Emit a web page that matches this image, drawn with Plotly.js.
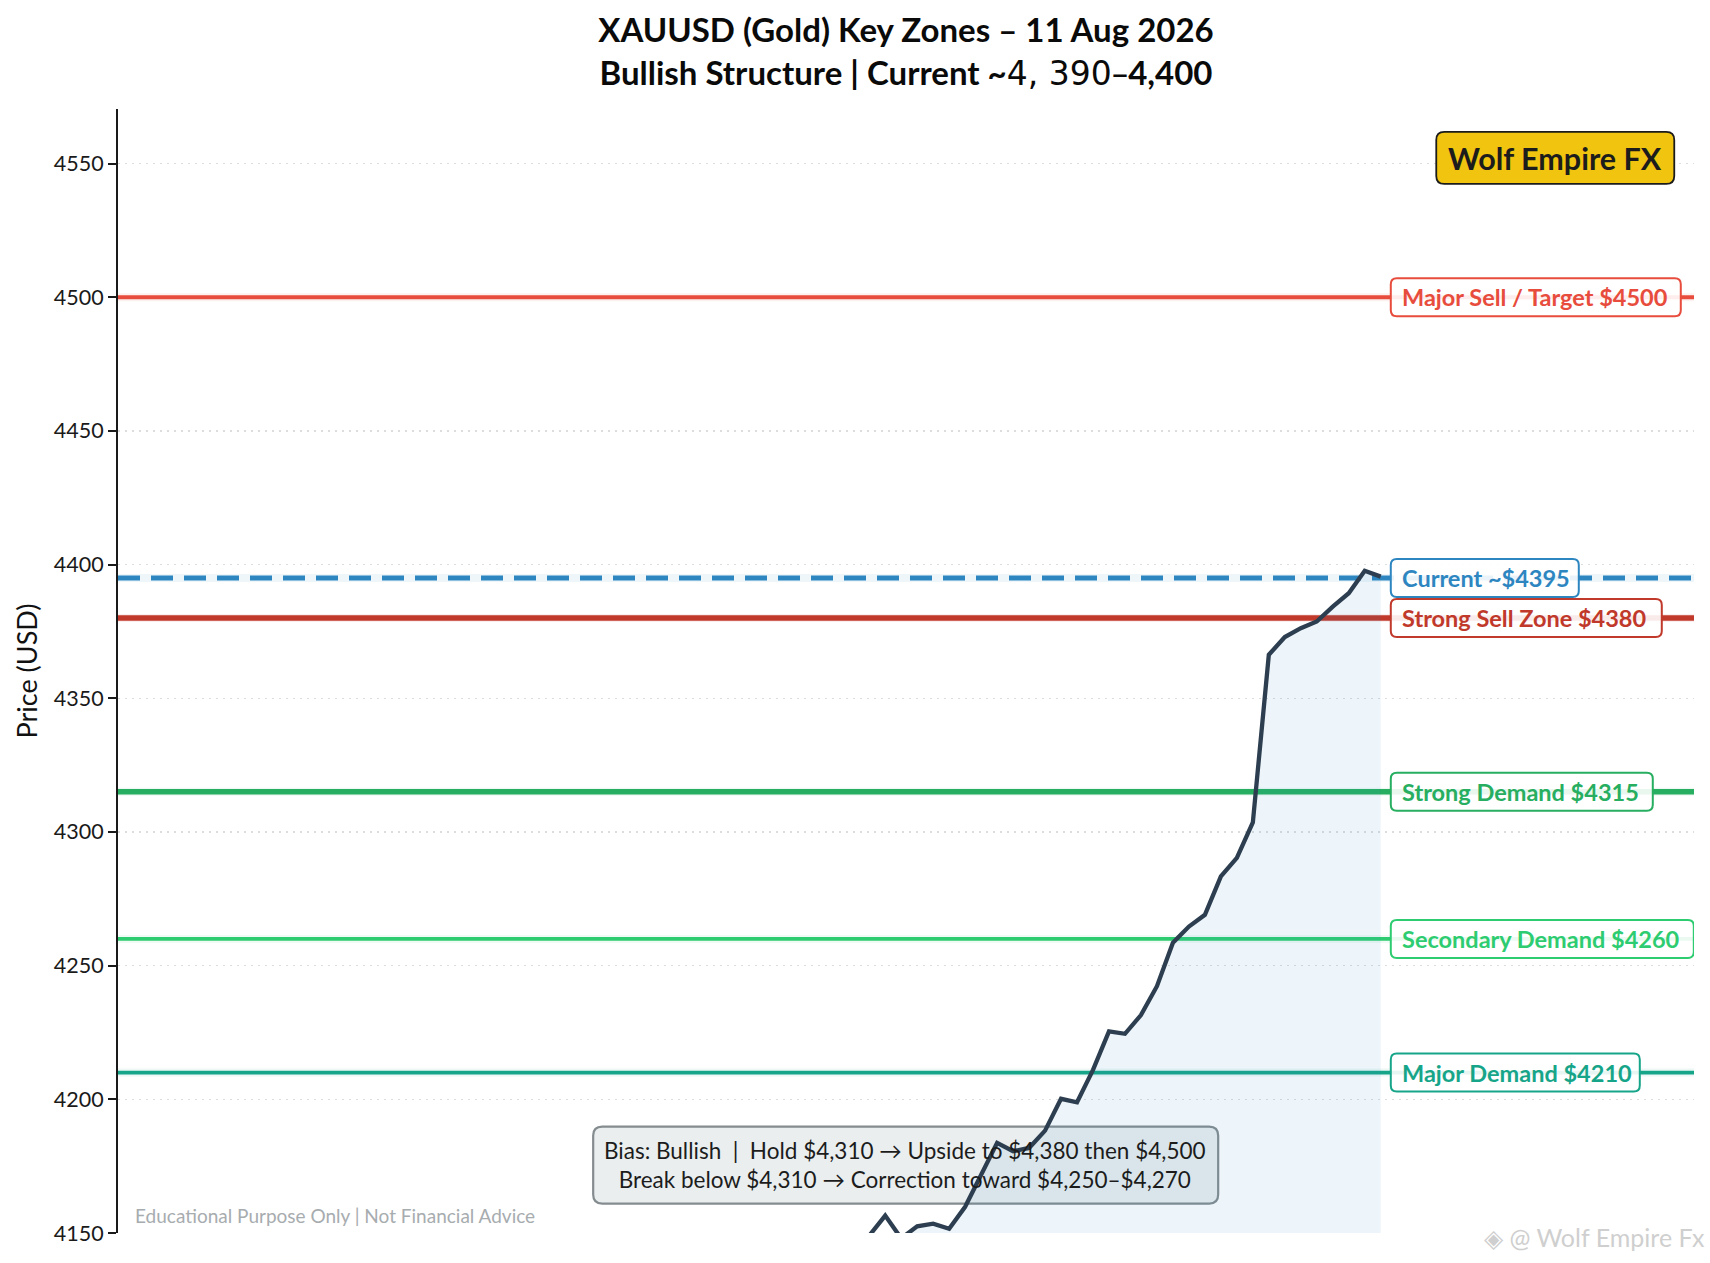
<!DOCTYPE html>
<html>
<head>
<meta charset="utf-8">
<script src="https://cdn.plot.ly/plotly-3.0.1.min.js"></script>
<style>
html,body{margin:0;padding:0;background:#ffffff;}
#chart{width:1710px;height:1263px;}
</style>
</head>
<body>
<div id="chart"></div>
<script>
// ---- data ----
const barIndex = [47,48,49,50,51,52,53,54,55,56,57,58,59,60,61,62,63,64,65,66,67,68,69,70,71,72,73,74,75,76,77,78,79];
const closePrices = [4149,4156.5,4148,4152.5,4153.5,4151.6,4159.8,4172,4183.7,4180.6,4181.8,4188.3,4200.2,4198.9,4211,4225.4,4224.5,4231.5,4242.3,4258.6,4264.6,4269,4283.4,4290.3,4303.6,4366.3,4372.9,4376.2,4378.7,4384.3,4389.3,4397.7,4395.5];
const fillFromIndex = 49;

const levelLabels = ['Major Sell / Target $4500','Current ~$4395','Strong Sell Zone $4380','Strong Demand $4315','Secondary Demand $4260','Major Demand $4210'];
const levelValues = [4500,4395,4380,4315,4260,4210];

const yTickValues = [4150,4200,4250,4300,4350,4400,4450,4500,4550];
const yTickLabels = ['4150','4200','4250','4300','4350','4400','4450','4500','4550'];

const titleLine1 = 'XAUUSD (Gold) Key Zones – 11 Aug 2026';
const titleLine2a = 'Bullish Structure | Current ~';
const titleLine2b = '4, 390–';
const titleLine2c = '4,400';
const biasLine1 = 'Bias: Bullish&nbsp;&nbsp;|&nbsp;&nbsp;Hold $4,310 → Upside to $4,380 then $4,500';
const biasLine2 = 'Break below $4,310 → Correction toward $4,250–$4,270';
const brandText = 'Wolf Empire FX';
const disclaimerText = 'Educational Purpose Only | Not Financial Advice';
const watermarkText = '◈ @ Wolf Empire Fx';
const yAxisTitle = 'Price (USD)';

// ---- styles / layout constants ----
const X_RANGE = [0, 98.6];
const levelStyle = [
  {color:'#E74C3C', rgb:'231,76,60',  width:4,   dash:'solid',     boxW:290},
  {color:'#2E86C1', rgb:'46,134,193', width:5,   dash:'22px,11px', boxW:188},
  {color:'#C0392B', rgb:'192,57,43',  width:5.5, dash:'solid',     boxW:271},
  {color:'#27AE60', rgb:'39,174,96',  width:5.5, dash:'solid',     boxW:262},
  {color:'#2ECC71', rgb:'46,204,113', width:3.7, dash:'solid',     boxW:303},
  {color:'#17A589', rgb:'23,165,137', width:3.7, dash:'solid',     boxW:249}
];
const FONT = 'Lato, "Source Sans Pro", "Noto Sans", sans-serif';
const LABEL_BOX_X = 79.63;   // x-axis position of label boxes' left edge
const LABEL_BOX_H = 38;

function roundRect(x0, y0, x1, y1, r){
  return `M ${x0+r},${y0} L ${x1-r},${y0} Q ${x1},${y0} ${x1},${y0+r} L ${x1},${y1-r} Q ${x1},${y1} ${x1-r},${y1} L ${x0+r},${y1} Q ${x0},${y1} ${x0},${y1-r} L ${x0},${y0+r} Q ${x0},${y0} ${x0+r},${y0} Z`;
}

// ---- traces ----
const traces = [];
levelValues.forEach((v,i)=>{
  const s = levelStyle[i];
  traces.push({
    x: X_RANGE, y: [v, v], type:'scatter', mode:'lines',
    line:{color:s.color, width:s.width, dash:s.dash},
    hoverinfo:'skip', showlegend:false
  });
});
const fillStart = barIndex.indexOf(fillFromIndex);
traces.push({
  x: barIndex.slice(fillStart), y: closePrices.slice(fillStart),
  type:'scatter', mode:'lines', fill:'tozeroy',
  fillcolor:'rgba(46,134,193,0.085)', line:{width:0, color:'rgba(0,0,0,0)'},
  hoverinfo:'skip', showlegend:false
});
traces.push({
  x: barIndex, y: closePrices,
  type:'scatter', mode:'lines',
  line:{color:'#2C3E50', width:4.3},
  showlegend:false
});

// ---- shapes ----
const shapes = [];
levelValues.forEach((v,i)=>{
  const s = levelStyle[i];
  shapes.push({type:'rect', xref:'paper', yref:'y', x0:0, x1:1, y0:v-1.5, y1:v+1.5,
    fillcolor:'rgba('+s.rgb+',0.08)', line:{width:0}, layer:'between'});
  // rounded label box
  shapes.push({type:'path', xref:'x', yref:'y', xsizemode:'pixel', ysizemode:'pixel',
    xanchor:LABEL_BOX_X, yanchor:v,
    path: roundRect(0, -LABEL_BOX_H/2, s.boxW, LABEL_BOX_H/2, 6),
    fillcolor:'rgba(255,255,255,0.9)', line:{color:s.color, width:2}, layer:'above'});
});
// bias box (rounded)
shapes.push({type:'path', xref:'x', yref:'y', xsizemode:'pixel', ysizemode:'pixel',
  xanchor:49.28, yanchor:4175.4, path: roundRect(-312.5, -38.5, 312.5, 38.5, 9),
  fillcolor:'rgba(233,237,238,0.95)', line:{color:'#858C8F', width:2.2}, layer:'between'});
// brand badge (rounded)
shapes.push({type:'path', xref:'x', yref:'y', xsizemode:'pixel', ysizemode:'pixel',
  xanchor:89.92, yanchor:4552.1, path: roundRect(-119, -26, 119, 26, 8),
  fillcolor:'#F1C40F', line:{color:'#1B1B1B', width:1.8}, layer:'above'});

// ---- annotations ----
const annotations = [];
levelValues.forEach((v,i)=>{
  const s = levelStyle[i];
  annotations.push({
    xref:'paper', yref:'y', x:0.8074, y:v, xanchor:'left', yanchor:'middle',
    text:'&nbsp;<b>'+levelLabels[i]+'</b>&nbsp;', showarrow:false,
    font:{family:FONT, size:23.5, color:s.color},
    bgcolor:'rgba(0,0,0,0)', borderwidth:0, borderpad:6
  });
});
annotations.push({
  xref:'paper', yref:'paper', x:0.9118, y:0.9564, xanchor:'center', yanchor:'middle',
  text:'<b>'+brandText+'</b>', showarrow:false,
  font:{family:FONT, size:30.5, color:'#1C1C1C'}
});
annotations.push({
  xref:'paper', yref:'paper', x:0.4994, y:0.0609, xanchor:'center', yanchor:'middle',
  text: biasLine1+'<br>'+biasLine2, showarrow:false, align:'center',
  font:{family:FONT, size:22.5, color:'#1C1C1C'}
});
annotations.push({
  xref:'paper', yref:'paper', x:0.0095, y:0.0156, xanchor:'left', yanchor:'middle',
  text: disclaimerText, showarrow:false,
  font:{family:FONT, size:19, color:'#A7ACAF'}
});
annotations.push({
  xref:'paper', yref:'paper', x:1.008, y:-0.004, xanchor:'right', yanchor:'middle',
  text: watermarkText, showarrow:false,
  font:{family:FONT, size:25, color:'#CFCFCF'}
});

const layout = {
  width:1710, height:1263,
  margin:{l:118, r:16, t:109, b:30, pad:0},
  paper_bgcolor:'#ffffff', plot_bgcolor:'#ffffff',
  font:{family:FONT, color:'#111111'},
  title:{
    text:'<b>'+titleLine1+'</b><br><b>'+titleLine2a+'</b><span style="font-family:\'DejaVu Sans\'">'+titleLine2b+'</span><b>'+titleLine2c+'</b>',
    font:{family:FONT, size:33, color:'#0A0A0A'},
    x:0.5, xref:'paper', xanchor:'center',
    y:0.967, yref:'container', yanchor:'top'
  },
  xaxis:{
    range:X_RANGE, visible:false, showgrid:false, zeroline:false, fixedrange:true
  },
  yaxis:{
    range:[4150,4570.4],
    tickmode:'array', tickvals:yTickValues, ticktext:yTickLabels,
    ticks:'outside', ticklen:8, tickwidth:2, tickcolor:'#1A1A1A',
    tickfont:{family:FONT, size:21.5, color:'#1A1A1A'},
    showline:true, linecolor:'#1A1A1A', linewidth:2,
    showgrid:true, gridcolor:'#DDDDDD', gridwidth:1.4, griddash:'2px,5px',
    zeroline:false,
    title:{text:yAxisTitle, font:{family:FONT, size:27, color:'#111111'}, standoff:8}
  },
  shapes: shapes,
  annotations: annotations,
  showlegend:false
};

Plotly.newPlot('chart', traces, layout, {displayModeBar:false, staticPlot:true});
</script>
</body>
</html>
